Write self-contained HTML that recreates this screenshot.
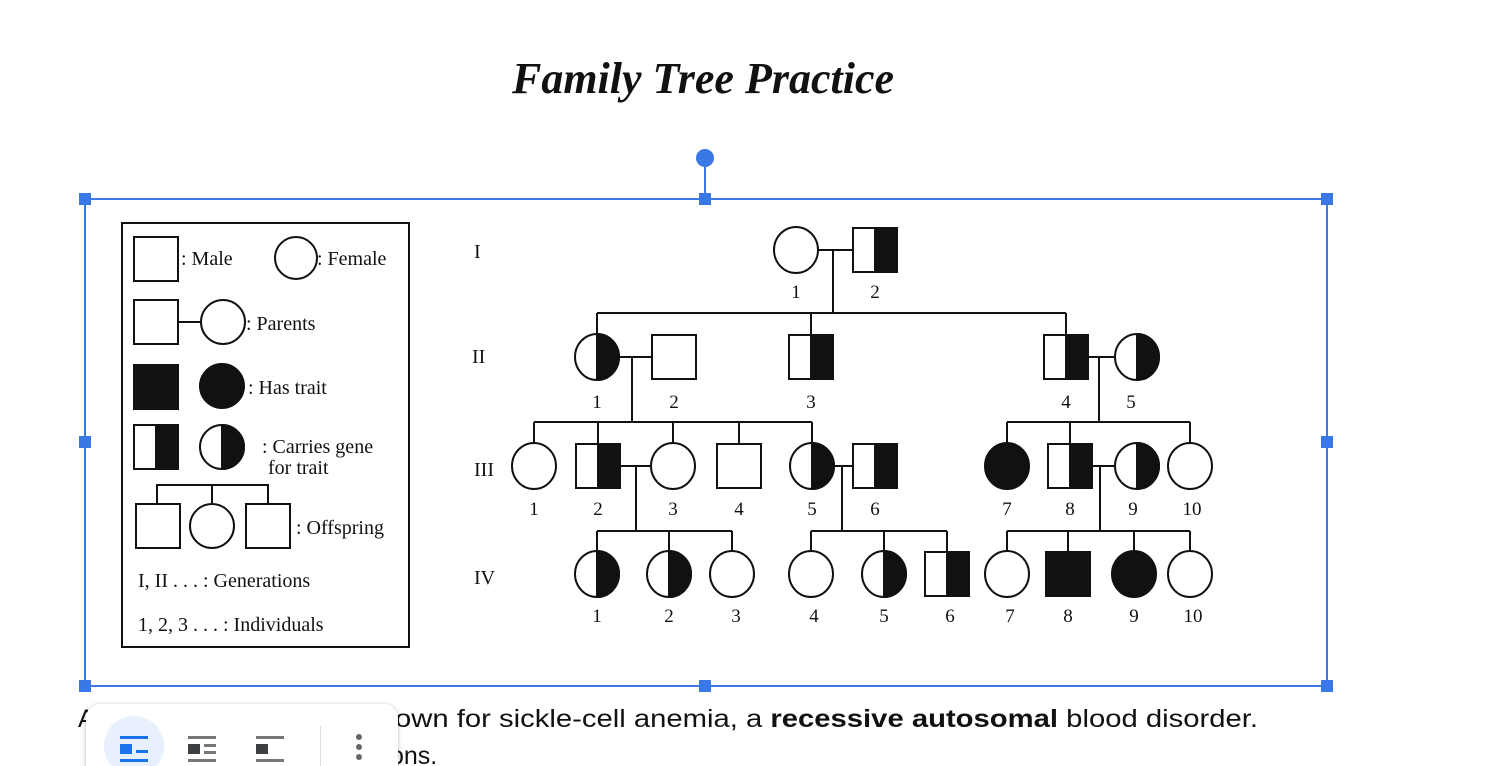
<!DOCTYPE html>
<html><head><meta charset="utf-8"><style>
html,body{margin:0;padding:0;background:#fff;width:1492px;height:766px;overflow:hidden;position:relative;font-family:"Liberation Sans",sans-serif}
</style></head><body>
<svg width="1492" height="766" style="position:absolute;left:0;top:0" xmlns="http://www.w3.org/2000/svg">
<text x="703" y="93" text-anchor="middle" font-family="Liberation Serif,serif" font-style="italic" font-weight="bold" font-size="44" fill="#111">Family Tree Practice</text>

<g stroke="#111" stroke-width="2" fill="#fff" font-family="Liberation Serif,serif">
<rect x="122" y="223" width="287" height="424" fill="none"/>
<rect x="134" y="237" width="44" height="44"/>
<circle cx="296" cy="258" r="21"/>
<rect x="134" y="300" width="44" height="44"/>
<line x1="178" y1="322" x2="201" y2="322"/>
<circle cx="223" cy="322" r="22"/>
<rect x="134" y="365" width="44" height="44" fill="#111"/>
<circle cx="222" cy="386" r="22" fill="#111"/>
<rect x="134" y="425" width="44" height="44"/>
<rect x="156" y="425" width="22" height="44" fill="#111"/>
<path d="M222,425 A22,22 0 0 1 222,469 Z" fill="#111"/>
<circle cx="222" cy="447" r="22" fill="none"/>
<polyline points="157,504 157,485 268,485 268,504" fill="none"/>
<line x1="212" y1="485" x2="212" y2="504"/>
<rect x="136" y="504" width="44" height="44"/>
<circle cx="212" cy="526" r="22"/>
<rect x="246" y="504" width="44" height="44"/>
</g>
<g font-family="Liberation Serif,serif" font-size="20" fill="#111">
<text x="181" y="265">: Male</text>
<text x="317" y="265">: Female</text>
<text x="246" y="330">: Parents</text>
<text x="248" y="394">: Has trait</text>
<text x="262" y="453">: Carries gene</text>
<text x="268" y="474">for trait</text>
<text x="296" y="534">: Offspring</text>
<text x="138" y="587">I, II . . . : Generations</text>
<text x="138" y="631">1, 2, 3 . . . : Individuals</text>
<text x="474" y="258">I</text>
<text x="472" y="363">II</text>
<text x="474" y="476">III</text>
<text x="474" y="584">IV</text>
</g>

<g stroke="#111" stroke-width="2" fill="none">
<line x1="818" y1="250" x2="853" y2="250"/>
<line x1="833" y1="250" x2="833" y2="313"/>
<line x1="597" y1="313" x2="1066" y2="313"/>
<line x1="597" y1="313" x2="597" y2="335"/>
<line x1="811" y1="313" x2="811" y2="335"/>
<line x1="1066" y1="313" x2="1066" y2="335"/>
<line x1="619" y1="357" x2="652" y2="357"/>
<line x1="632" y1="357" x2="632" y2="422"/>
<line x1="1088" y1="357" x2="1115" y2="357"/>
<line x1="1099" y1="357" x2="1099" y2="422"/>
<line x1="534" y1="422" x2="812" y2="422"/>
<line x1="534" y1="422" x2="534" y2="444"/>
<line x1="598" y1="422" x2="598" y2="444"/>
<line x1="673" y1="422" x2="673" y2="444"/>
<line x1="739" y1="422" x2="739" y2="444"/>
<line x1="812" y1="422" x2="812" y2="444"/>
<line x1="1007" y1="422" x2="1190" y2="422"/>
<line x1="1007" y1="422" x2="1007" y2="444"/>
<line x1="1070" y1="422" x2="1070" y2="444"/>
<line x1="1190" y1="422" x2="1190" y2="444"/>
<line x1="620" y1="466" x2="651" y2="466"/>
<line x1="636" y1="466" x2="636" y2="531"/>
<line x1="834" y1="466" x2="853" y2="466"/>
<line x1="842" y1="466" x2="842" y2="531"/>
<line x1="1092" y1="466" x2="1115" y2="466"/>
<line x1="1100" y1="466" x2="1100" y2="531"/>
<line x1="597" y1="531" x2="732" y2="531"/>
<line x1="597" y1="531" x2="597" y2="552"/>
<line x1="669" y1="531" x2="669" y2="552"/>
<line x1="732" y1="531" x2="732" y2="552"/>
<line x1="811" y1="531" x2="947" y2="531"/>
<line x1="811" y1="531" x2="811" y2="552"/>
<line x1="884" y1="531" x2="884" y2="552"/>
<line x1="947" y1="531" x2="947" y2="552"/>
<line x1="1007" y1="531" x2="1190" y2="531"/>
<line x1="1007" y1="531" x2="1007" y2="552"/>
<line x1="1068" y1="531" x2="1068" y2="552"/>
<line x1="1134" y1="531" x2="1134" y2="552"/>
<line x1="1190" y1="531" x2="1190" y2="552"/>
</g>

<g stroke="#111" stroke-width="2" fill="#fff">
<ellipse cx="796" cy="250" rx="22" ry="23"/>
<rect x="853" y="228" width="44" height="44"/><rect x="875" y="228" width="22" height="44" fill="#111"/>
<path d="M597,334 A22,23 0 0 1 597,380 Z" fill="#111"/><ellipse cx="597" cy="357" rx="22" ry="23" fill="none"/>
<rect x="652" y="335" width="44" height="44"/>
<rect x="789" y="335" width="44" height="44"/><rect x="811" y="335" width="22" height="44" fill="#111"/>
<rect x="1044" y="335" width="44" height="44"/><rect x="1066" y="335" width="22" height="44" fill="#111"/>
<path d="M1137,334 A22,23 0 0 1 1137,380 Z" fill="#111"/><ellipse cx="1137" cy="357" rx="22" ry="23" fill="none"/>
<ellipse cx="534" cy="466" rx="22" ry="23"/>
<rect x="576" y="444" width="44" height="44"/><rect x="598" y="444" width="22" height="44" fill="#111"/>
<ellipse cx="673" cy="466" rx="22" ry="23"/>
<rect x="717" y="444" width="44" height="44"/>
<path d="M812,443 A22,23 0 0 1 812,489 Z" fill="#111"/><ellipse cx="812" cy="466" rx="22" ry="23" fill="none"/>
<rect x="853" y="444" width="44" height="44"/><rect x="875" y="444" width="22" height="44" fill="#111"/>
<ellipse cx="1007" cy="466" rx="22" ry="23" fill="#111"/>
<rect x="1048" y="444" width="44" height="44"/><rect x="1070" y="444" width="22" height="44" fill="#111"/>
<path d="M1137,443 A22,23 0 0 1 1137,489 Z" fill="#111"/><ellipse cx="1137" cy="466" rx="22" ry="23" fill="none"/>
<ellipse cx="1190" cy="466" rx="22" ry="23"/>
<path d="M597,551 A22,23 0 0 1 597,597 Z" fill="#111"/><ellipse cx="597" cy="574" rx="22" ry="23" fill="none"/>
<path d="M669,551 A22,23 0 0 1 669,597 Z" fill="#111"/><ellipse cx="669" cy="574" rx="22" ry="23" fill="none"/>
<ellipse cx="732" cy="574" rx="22" ry="23"/>
<ellipse cx="811" cy="574" rx="22" ry="23"/>
<path d="M884,551 A22,23 0 0 1 884,597 Z" fill="#111"/><ellipse cx="884" cy="574" rx="22" ry="23" fill="none"/>
<rect x="925" y="552" width="44" height="44"/><rect x="947" y="552" width="22" height="44" fill="#111"/>
<ellipse cx="1007" cy="574" rx="22" ry="23"/>
<rect x="1046" y="552" width="44" height="44" fill="#111"/>
<ellipse cx="1134" cy="574" rx="22" ry="23" fill="#111"/>
<ellipse cx="1190" cy="574" rx="22" ry="23"/>
</g>

<g font-family="Liberation Serif,serif" font-size="19" fill="#111" text-anchor="middle">
<text x="796" y="298">1</text><text x="875" y="298">2</text>
<text x="597" y="408">1</text><text x="674" y="408">2</text><text x="811" y="408">3</text><text x="1066" y="408">4</text><text x="1131" y="408">5</text>
<text x="534" y="515">1</text><text x="598" y="515">2</text><text x="673" y="515">3</text><text x="739" y="515">4</text><text x="812" y="515">5</text><text x="875" y="515">6</text>
<text x="1007" y="515">7</text><text x="1070" y="515">8</text><text x="1133" y="515">9</text><text x="1192" y="515">10</text>
<text x="597" y="622">1</text><text x="669" y="622">2</text><text x="736" y="622">3</text><text x="814" y="622">4</text><text x="884" y="622">5</text><text x="950" y="622">6</text>
<text x="1010" y="622">7</text><text x="1068" y="622">8</text><text x="1134" y="622">9</text><text x="1193" y="622">10</text>
</g>

<g stroke="#3b78e7" stroke-width="2" fill="none">
<rect x="85" y="199" width="1242" height="487"/>
<line x1="705" y1="160" x2="705" y2="199"/>
</g>
<g fill="#3b78e7">
<circle cx="705" cy="158" r="9"/>
<rect x="79" y="193" width="12" height="12"/><rect x="699" y="193" width="12" height="12"/><rect x="1321" y="193" width="12" height="12"/>
<rect x="79" y="436" width="12" height="12"/><rect x="1321" y="436" width="12" height="12"/>
<rect x="79" y="680" width="12" height="12"/><rect x="699" y="680" width="12" height="12"/><rect x="1321" y="680" width="12" height="12"/>
</g>

<text x="395" y="727" font-family="Liberation Sans,sans-serif" font-size="25" fill="#111" textLength="863" lengthAdjust="spacingAndGlyphs">own for sickle-cell anemia, a <tspan font-weight="bold">recessive autosomal</tspan> blood disorder.</text>
<text x="390" y="764" font-family="Liberation Sans,sans-serif" font-size="25" fill="#111">ons.</text>
<text x="78" y="727" font-family="Liberation Sans,sans-serif" font-size="25" fill="#111">A</text>
</svg>
<div style="position:absolute;left:86px;top:704px;width:312px;height:80px;background:#fff;border-radius:14px;box-shadow:0 1px 4px rgba(0,0,0,.3)">
<div style="position:absolute;left:18px;top:12px;width:60px;height:60px;border-radius:30px;background:#e8f0fe"></div>
<div style="position:absolute;left:34px;top:32px;width:28px;height:3px;background:#1a73e8"></div>
<div style="position:absolute;left:34px;top:40px;width:12px;height:10px;background:#1a73e8"></div>
<div style="position:absolute;left:50px;top:46px;width:12px;height:3px;background:#1a73e8"></div>
<div style="position:absolute;left:34px;top:55px;width:28px;height:3px;background:#1a73e8"></div>
<div style="position:absolute;left:102px;top:32px;width:28px;height:3px;background:#777"></div>
<div style="position:absolute;left:102px;top:40px;width:12px;height:10px;background:#3c4043"></div>
<div style="position:absolute;left:118px;top:40px;width:12px;height:3px;background:#777"></div>
<div style="position:absolute;left:118px;top:47px;width:12px;height:3px;background:#777"></div>
<div style="position:absolute;left:102px;top:55px;width:28px;height:3px;background:#777"></div>
<div style="position:absolute;left:170px;top:32px;width:28px;height:3px;background:#777"></div>
<div style="position:absolute;left:170px;top:40px;width:12px;height:10px;background:#3c4043"></div>
<div style="position:absolute;left:170px;top:55px;width:28px;height:3px;background:#777"></div>
<div style="position:absolute;left:234px;top:22px;width:1px;height:40px;background:#ddd"></div>
<div style="position:absolute;left:270px;top:30px;width:6px;height:6px;border-radius:3px;background:#666"></div>
<div style="position:absolute;left:270px;top:40px;width:6px;height:6px;border-radius:3px;background:#666"></div>
<div style="position:absolute;left:270px;top:50px;width:6px;height:6px;border-radius:3px;background:#666"></div>
</div>
</body></html>
